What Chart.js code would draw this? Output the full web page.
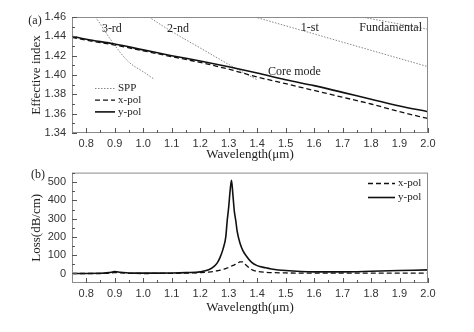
<!DOCTYPE html>
<html>
<head>
<meta charset="utf-8">
<script src="https://cdn.jsdelivr.net/npm/chart.js@4/dist/chart.umd.min.js"></script>
<style>
  html, body { margin: 0; padding: 0; background: #fff; }
  #wrap { position: relative; width: 474px; height: 332px; }
  #wrap canvas { position: absolute; left: 0; }
  #index-chart { top: 0; }
  #loss-chart { top: 160px; }
</style>
</head>
<body>
<div id="wrap">
  <canvas id="index-chart" width="474" height="165"></canvas>
  <canvas id="loss-chart" width="474" height="172"></canvas>
</div>
<script>
/* ── data: panel (a) effective index ── */
const coreWl     = [0.75, 0.8, 0.9, 1.0, 1.1, 1.2, 1.3, 1.4, 1.5, 1.6, 1.7, 1.8, 1.9, 2.0];
const coreYPol   = [1.440, 1.437, 1.432, 1.426, 1.420, 1.4145, 1.4085, 1.402, 1.395, 1.389, 1.382, 1.375, 1.368, 1.362];
const coreXPol   = [1.439, 1.436, 1.431, 1.425, 1.419, 1.413, 1.406, 1.398, 1.391, 1.384, 1.377, 1.370, 1.362, 1.355];
const spp3rdWl   = [0.833, 0.895, 0.948, 1.0, 1.039];
const spp3rdN    = [1.46, 1.4328, 1.4138, 1.4034, 1.3956];
const spp2ndWl   = [1.02, 1.1, 1.2, 1.3, 1.4];
const spp2ndN    = [1.46, 1.445, 1.428, 1.411, 1.395];
const spp1stWl   = [1.392, 1.6, 1.8, 2.0];
const spp1stN    = [1.46, 1.4425, 1.4255, 1.4086];
const sppFundWl  = [1.766, 2.0];
const sppFundN   = [1.46, 1.4473];

/* ── data: panel (b) loss ── */
const lossWl   = [0.75, 0.85, 0.88, 0.9, 0.92, 0.95, 1.0, 1.1, 1.15, 1.2, 1.23, 1.25, 1.26, 1.27, 1.28, 1.29, 1.295, 1.30, 1.305, 1.31, 1.315, 1.32, 1.325, 1.33, 1.34, 1.35, 1.36, 1.38, 1.4, 1.43, 1.45, 1.5, 1.6, 1.7, 1.8, 1.9, 2.0];
const lossYPol = [0, 1, 5, 10, 7, 3, 2, 3, 5, 9, 20, 40, 58, 88, 132, 200, 290, 360, 450, 510, 430, 340, 290, 230, 165, 125, 100, 62, 43, 31, 25, 16, 9, 9, 12, 16, 20];
const lossXPol = [0, 0, 2, 5, 3, 1, 0, 1, 2, 5, 8, 12, 15, 18, 22, 27, 30, 33, 37, 41, 44, 47, 51, 55, 63, 64, 48, 22, 12, 7, 5, 3, 2, 2, 2, 2, 2];

/* ── ticks ── */
const wlTicks    = [0.8, 0.9, 1.0, 1.1, 1.2, 1.3, 1.4, 1.5, 1.6, 1.7, 1.8, 1.9, 2.0];
const indexTicks = [1.34, 1.36, 1.38, 1.40, 1.42, 1.44, 1.46];
const lossTicks  = [0, 100, 200, 300, 400, 500];

/* ── annotation texts (a) ── */
const modeLabels  = ['3-rd', '2-nd', '1-st', 'Fundamental', 'Core mode'];
const modeLabelWl = [0.89, 1.122, 1.585, 1.869, 1.531];
const modeLabelN  = [1.4476, 1.4476, 1.4486, 1.4486, 1.403];

const SERIF = '"Liberation Serif", "Times New Roman", serif';
const SANS = 'Arial, "Liberation Sans", sans-serif';
Chart.defaults.font.family = SANS;

const pts = (xs, ys) => xs.map((x, i) => ({ x, y: ys[i] }));

/* frame, inward ticks, titles, panel tag, legend, text labels */
const figurePlugin = {
  id: 'figure',
  afterDraw(chart, args, opts) {
    const ctx = chart.ctx;
    const a = chart.chartArea;
    const xs = chart.scales.x, ys = chart.scales.y;
    ctx.save();
    ctx.strokeStyle = '#8a8a8a';
    ctx.lineWidth = 1;
    ctx.strokeRect(a.left + 0.5, a.top + 0.5, a.right - a.left - 1, a.bottom - a.top - 1);

    // inward ticks, major + halfway minor
    ctx.strokeStyle = '#555';
    ctx.beginPath();
    const xt = opts.xTicks, yt = opts.yTicks;
    const xStep = xt[1] - xt[0], yStep = yt[1] - yt[0];
    const xMinor = [xt[0] - xStep / 2].concat(xt.map(v => v + xStep / 2));
    xt.forEach(v => {
      const px = Math.round(xs.getPixelForValue(v)) + 0.5;
      ctx.moveTo(px, a.bottom); ctx.lineTo(px, a.bottom - 5);
    });
    xMinor.filter(v => v > xs.min && v < xs.max).forEach(v => {
      const px = Math.round(xs.getPixelForValue(v)) + 0.5;
      ctx.moveTo(px, a.bottom); ctx.lineTo(px, a.bottom - 3);
    });
    yt.forEach(v => {
      const py = Math.round(ys.getPixelForValue(v)) + 0.5;
      ctx.moveTo(a.left, py); ctx.lineTo(a.left + 5, py);
      const m = v + yStep / 2;
      if (m < ys.max) {
        const pm = Math.round(ys.getPixelForValue(m)) + 0.5;
        ctx.moveTo(a.left, pm); ctx.lineTo(a.left + 3, pm);
      }
    });
    ctx.stroke();

    // axis titles
    ctx.fillStyle = '#222';
    ctx.font = '13px ' + SERIF;
    ctx.textAlign = 'center';
    ctx.textBaseline = 'middle';
    ctx.fillText('Wavelength(\u03bcm)', 250, a.bottom + opts.xTitleGap);
    ctx.save();
    ctx.translate(37, (a.top + a.bottom) / 2);
    ctx.rotate(-Math.PI / 2);
    ctx.fillText(opts.yTitle, 0, 0);
    ctx.restore();

    // panel tag
    ctx.font = '12px ' + SERIF;
    ctx.fillText(opts.tag, opts.tagX, opts.tagY);

    // text labels in data coordinates
    opts.labels.forEach(l => {
      ctx.fillText(l.text, xs.getPixelForValue(l.x), ys.getPixelForValue(l.y));
    });

    // legend
    ctx.font = '11px ' + SERIF;
    ctx.textAlign = 'left';
    opts.legend.forEach((item, i) => {
      const ds = chart.data.datasets[item.ds];
      const y = opts.legendY + i * opts.legendGap + 0.5;
      ctx.strokeStyle = ds.borderColor;
      ctx.lineWidth = ds.borderWidth;
      ctx.setLineDash(ds.borderDash || []);
      ctx.beginPath();
      ctx.moveTo(opts.legendX, y);
      ctx.lineTo(opts.legendX + opts.legendLen, y);
      ctx.stroke();
      ctx.setLineDash([]);
      ctx.fillText(item.text, opts.legendX + opts.legendLen + 3, y);
    });
    ctx.restore();
  }
};

function xScale(height) {
  return {
    type: 'linear', min: 0.75, max: 2.0,
    afterBuildTicks: s => { s.ticks = wlTicks.map(v => ({ value: v })); },
    afterFit: s => { s.height = height; },
    grid: { display: false, drawTicks: false }, border: { display: false },
    ticks: { color: '#333', padding: 4, maxRotation: 0, autoSkip: false,
             font: { family: SANS, size: 11 }, callback: v => v.toFixed(1) }
  };
}

function yScale(min, max, tickArr, fmt) {
  return {
    type: 'linear', min, max,
    afterBuildTicks: s => { s.ticks = tickArr.map(v => ({ value: v })); },
    afterFit: s => { s.width = 72; },
    grid: { display: false, drawTicks: false }, border: { display: false },
    ticks: { color: '#333', padding: 6, font: { family: SANS, size: 11 }, callback: fmt }
  };
}

function lineDs(data, color, width, dash) {
  return { data, borderColor: color, borderWidth: width, borderDash: dash,
           pointRadius: 0, fill: false, cubicInterpolationMode: 'monotone' };
}

const sppDash = [1.5, 1.5];

new Chart(document.getElementById('index-chart'), {
  type: 'line',
  data: {
    datasets: [
      lineDs(pts(spp3rdWl, spp3rdN), '#777', 0.9, sppDash),
      lineDs(pts(coreWl, coreXPol), '#111', 1.3, [5, 3]),
      lineDs(pts(coreWl, coreYPol), '#111', 1.6, []),
      lineDs(pts(spp2ndWl, spp2ndN), '#777', 0.9, sppDash),
      lineDs(pts(spp1stWl, spp1stN), '#777', 0.9, sppDash),
      lineDs(pts(sppFundWl, sppFundN), '#777', 0.9, sppDash)
    ]
  },
  options: {
    responsive: false, animation: false,
    layout: { padding: { left: 0, right: 46, top: 17, bottom: 0 } },
    plugins: {
      legend: { display: false }, tooltip: { enabled: false },
      figure: {
        xTicks: wlTicks, yTicks: indexTicks, yTitle: 'Effective index', xTitleGap: 22,
        tag: '(a)', tagX: 35, tagY: 21,
        labels: modeLabels.map((t, i) => ({ text: t, x: modeLabelWl[i], y: modeLabelN[i] })),
        legend: [{ ds: 0, text: 'SPP' }, { ds: 1, text: 'x-pol' }, { ds: 2, text: 'y-pol' }],
        legendX: 95, legendY: 88, legendGap: 11.7, legendLen: 20
      }
    },
    scales: {
      x: xScale(32),
      y: yScale(1.34, 1.46, indexTicks, v => v.toFixed(2))
    }
  },
  plugins: [figurePlugin]
});

new Chart(document.getElementById('loss-chart'), {
  type: 'line',
  data: {
    datasets: [
      lineDs(pts(lossWl, lossXPol), '#111', 1.3, [5, 3]),
      lineDs(pts(lossWl, lossYPol), '#111', 1.6, [])
    ]
  },
  options: {
    responsive: false, animation: false,
    layout: { padding: { left: 0, right: 46, top: 7, bottom: 0 } },
    plugins: {
      legend: { display: false }, tooltip: { enabled: false },
      figure: {
        xTicks: wlTicks, yTicks: lossTicks, yTitle: 'Loss(dB/cm)', xTitleGap: 25,
        tag: '(b)', tagX: 38, tagY: 15,
        labels: [],
        legend: [{ ds: 0, text: 'x-pol' }, { ds: 1, text: 'y-pol' }],
        legendX: 368, legendY: 23, legendGap: 14, legendLen: 27
      }
    },
    scales: {
      x: xScale(49),
      y: yScale(-52, 552, lossTicks, v => String(v))
    }
  },
  plugins: [figurePlugin]
});
</script>
</body>
</html>
